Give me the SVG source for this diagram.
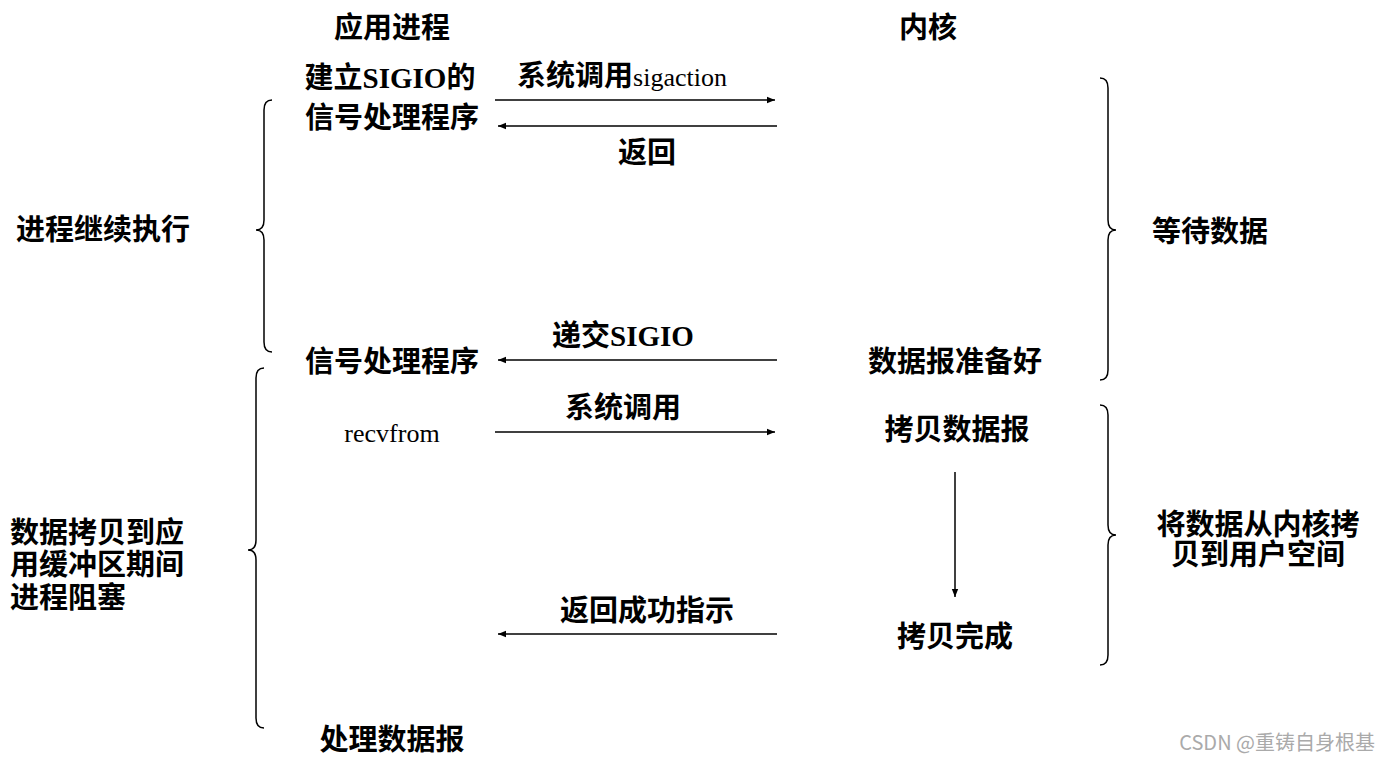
<svg xmlns="http://www.w3.org/2000/svg" width="1379" height="765" viewBox="0 0 1379 765">
<defs>
<marker id="ah" viewBox="0 0 10 10" refX="10" refY="5" markerWidth="10" markerHeight="8" orient="auto" markerUnits="userSpaceOnUse"><path d="M0,1 L10,5 L0,9 Z" fill="#000"/></marker>
<style>
text{font-family:"Liberation Serif","Noto Sans CJK SC",serif;font-size:29px;font-weight:bold;fill:#000}
.h{font-family:"Noto Sans CJK SC",sans-serif}
.c{text-anchor:middle}
.r{font-weight:normal;font-size:26px}
.a{stroke:#000;stroke-width:1.5;fill:none;marker-end:url(#ah)}
.b{stroke:#000;stroke-width:1.5;fill:none}
.w{font-family:"Noto Sans CJK SC",sans-serif;font-size:20px;font-weight:normal;fill:#aaa;text-anchor:end}
</style>
</defs>
<rect width="1379" height="765" fill="#fff"/>
<text id="h1" class="h c" x="392" y="38">应用进程</text>
<text id="h2" class="h c" x="928" y="38">内核</text>
<g id="connectors">
<line class="a" x1="495" y1="100" x2="775" y2="100"/>
<line class="a" x1="777" y1="126" x2="498" y2="126"/>
<line class="a" x1="777" y1="360" x2="498" y2="360"/>
<line class="a" x1="495" y1="432" x2="775" y2="432"/>
<line class="a" x1="955" y1="472" x2="955" y2="597"/>
<line class="a" x1="777" y1="634" x2="498" y2="634"/>
<path class="b" d="M272,100 Q264,100 264,110 L264,220 Q264,230 256,230 Q264,230 264,240 L264,342 Q264,352 272,352"/>
<path class="b" d="M264,368 Q256,368 256,378 L256,540 Q256,550 248,550 Q256,550 256,560 L256,718 Q256,728 264,728"/>
<path class="b" d="M1100,78 Q1108,78 1108,88 L1108,220 Q1108,230 1116,230 Q1108,230 1108,240 L1108,370 Q1108,380 1100,380"/>
<path class="b" d="M1100,405 Q1108,405 1108,415 L1108,525 Q1108,535 1116,535 Q1108,535 1108,545 L1108,655 Q1108,665 1100,665"/>
</g>
<g id="labels">
<text class="c" x="622" y="86">系统调用<tspan class="r">sigaction</tspan></text>
<text class="c" x="647" y="163">返回</text>
<text class="c" x="623" y="346">递交SIGIO</text>
<text class="c" x="623" y="418">系统调用</text>
<text class="c" x="647" y="621">返回成功指示</text>
</g>
<g id="app">
<text class="c" x="390" y="88">建立SIGIO的</text>
<text class="c" x="392" y="128">信号处理程序</text>
<text class="c" x="392" y="372">信号处理程序</text>
<text class="c r" x="392" y="442">recvfrom</text>
<text class="c" x="392" y="750">处理数据报</text>
</g>
<g id="kernel">
<text class="c" x="955" y="372">数据报准备好</text>
<text class="c" x="957" y="440">拷贝数据报</text>
<text class="c" x="955" y="647">拷贝完成</text>
</g>
<g id="side">
<text x="16" y="240">进程继续执行</text>
<text x="10" y="543">数据拷贝到应</text>
<text x="10" y="575">用缓冲区期间</text>
<text x="10" y="608">进程阻塞</text>
<text class="c" x="1210" y="242">等待数据</text>
<text class="c" x="1258" y="535">将数据从内核拷</text>
<text class="c" x="1258" y="565">贝到用户空间</text>
</g>
<text class="w" x="1375" y="750">CSDN @重铸自身根基</text>
</svg>
